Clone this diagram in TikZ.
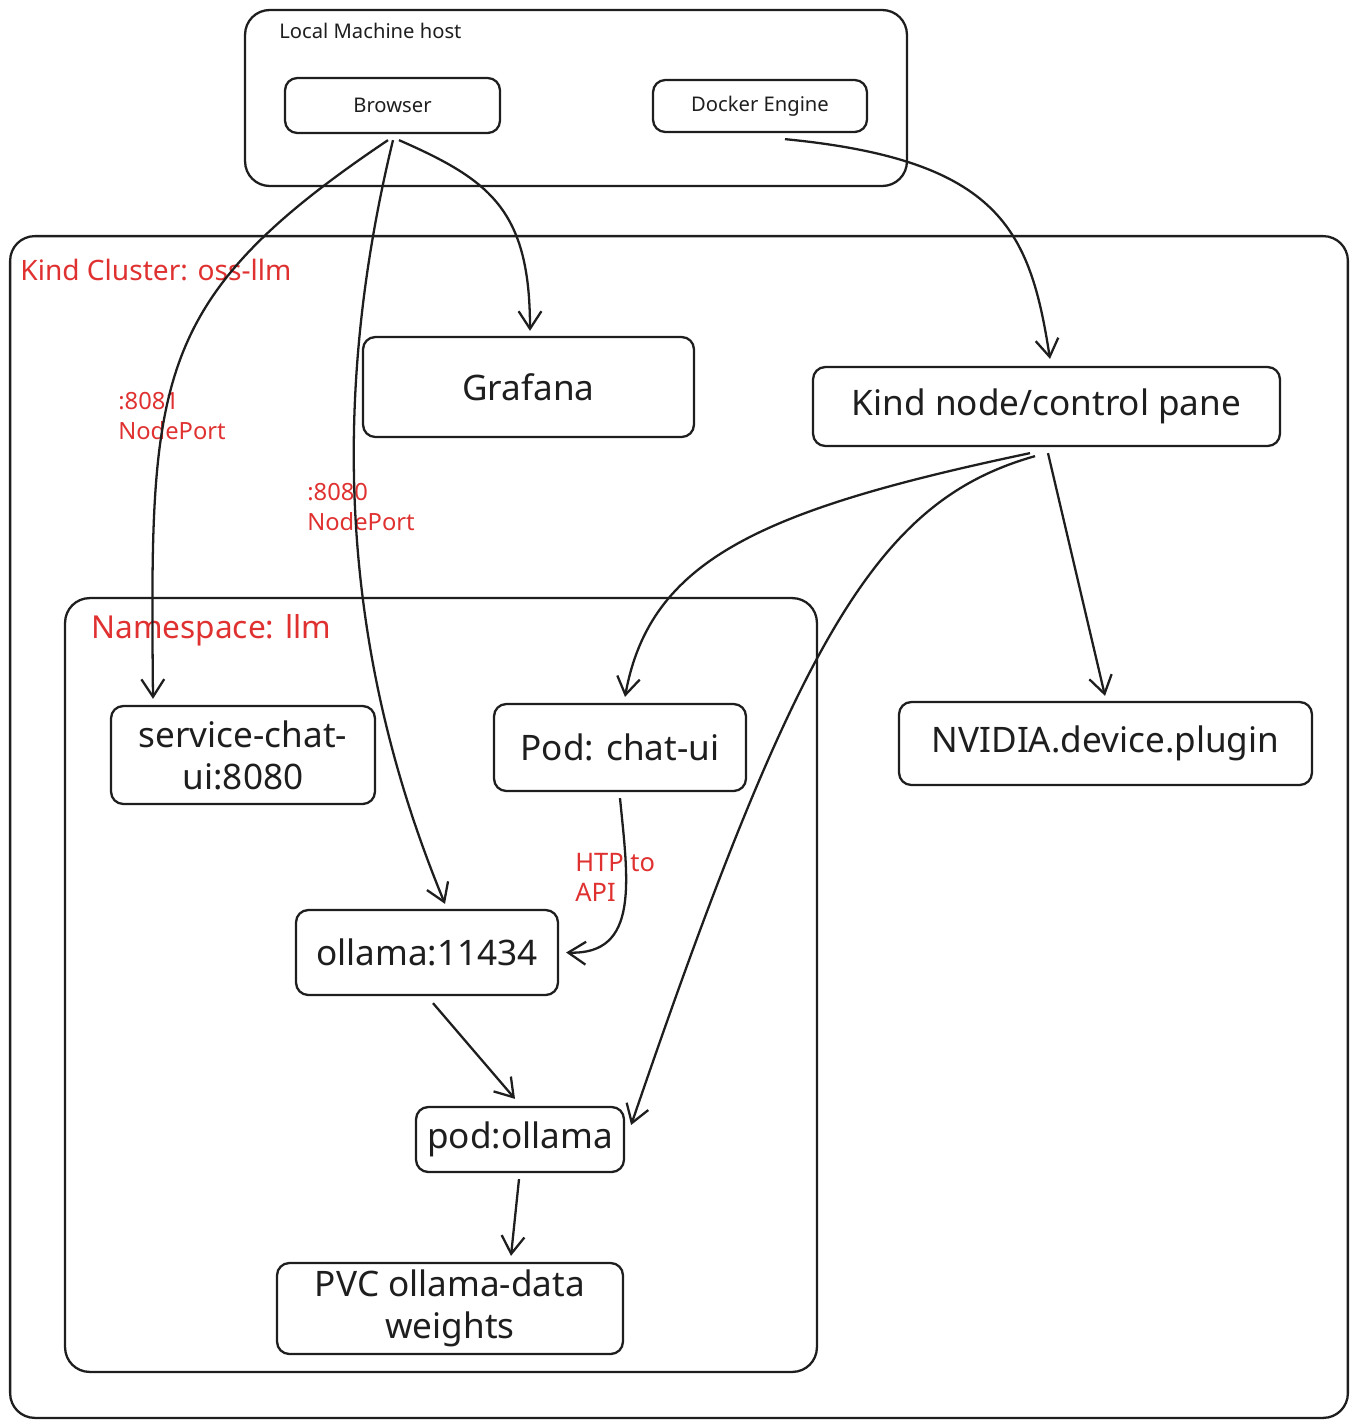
\documentclass[tikz,border=0pt]{standalone}
\usepackage{fontspec}
\setmainfont{Noto Sans}
\usepackage{tikz}
\usetikzlibrary{arrows.meta, positioning}
\definecolor{LabelRed}{RGB}{224,49,49}
\definecolor{InkBlack}{RGB}{30,30,30}

\begin{document}
\begin{tikzpicture}[
    x=0.02cm, y=-0.02cm,
    box/.style = {draw=InkBlack, line width=1.3pt, rectangle, rounded corners=7pt, inner sep=0pt, text centered, text=InkBlack, font=\fontsize{20}{24}\selectfont, align=center},
    hostbox/.style = {box, font=\fontsize{11.5}{13}\selectfont},
    frame/.style = {draw=InkBlack, line width=1.3pt, rectangle, rounded corners=14pt, inner sep=0pt},
    tag/.style = {text=LabelRed, inner sep=0pt, align=left, anchor=west},
    link/.style = {draw=InkBlack, line width=1.3pt, -{Straight Barb[length=10pt,width=13pt,line width=1.3pt]}}
]
\useasboundingbox (0,0) rectangle (1358,1428);
% Local machine
\node[frame, minimum width=13.24cm, minimum height=3.52cm] (host) at (576,98) {};
\node[tag, text=InkBlack, font=\fontsize{11.5}{13}\selectfont] (hostlabel) at (279,31) {Local Machine host};
\node[hostbox, minimum width=4.3cm, minimum height=1.1cm] (browser) at (392.5,105.5) {Browser};
\node[hostbox, minimum width=4.28cm, minimum height=1.04cm] (docker) at (760,106) {Docker Engine};
% Kind cluster
\node[frame, minimum width=26.76cm, minimum height=23.64cm] (cluster) at (679,827) {};
\node[tag, font=\fontsize{16}{18}\selectfont] (clusterlabel) at (20,270) {Kind Cluster: oss-llm};
\node[box, minimum width=6.62cm, minimum height=2cm] (grafana) at (528.5,387) {Grafana};
\node[box, minimum width=9.34cm, minimum height=1.58cm] (kindnode) at (1046.5,406.5) {Kind node/control pane};
\node[box, minimum width=8.26cm, minimum height=1.66cm] (nvidia) at (1105.5,743.5) {NVIDIA.device.plugin};
% Namespace llm
\node[frame, minimum width=15.04cm, minimum height=15.48cm] (namespace) at (441,985) {};
\node[tag, font=\fontsize{18}{20}\selectfont] (nslabel) at (91,630) {Namespace: llm};
\node[box, minimum width=5.28cm, minimum height=1.96cm] (svc) at (243,755) {service-chat-\\ui:8080};
\node[box, minimum width=5.04cm, minimum height=1.74cm] (chatui) at (620,747.5) {Pod: chat-ui};
\node[box, minimum width=5.24cm, minimum height=1.7cm] (ollama) at (427,952.5) {ollama:11434};
\node[box, minimum width=4.16cm, minimum height=1.3cm] (podollama) at (520,1139.5) {pod:ollama};
\node[box, minimum width=6.92cm, minimum height=1.82cm] (pvc) at (450,1308.5) {PVC ollama-data\\weights};
% Port labels
\node[tag, font=\fontsize{13.5}{17.5}\selectfont] (port81) at (118,416) {:8081\\NodePort};
\node[tag, font=\fontsize{13.5}{17.5}\selectfont] (port80) at (307,507) {:8080\\NodePort};
\node[tag, font=\fontsize{14.5}{17}\selectfont] (httplabel) at (575,877) {HTP to\\API};

% Connectors
\draw[link] ([shift={(-4.5,6)}]browser.south) .. controls (150,300) and (150,380) .. ([shift={(-90,-6)}]svc.north);
\draw[link] ([shift={(0.5,6)}]browser.south) .. controls (330,400) and (340,650) .. ([shift={(18,-5)}]ollama.north);
\draw[link] ([shift={(6.5,6)}]browser.south) .. controls (490,180) and (530,210) .. ([shift={(1.5,-5)}]grafana.north);
\draw[link] ([shift={(25,6)}]docker.south) .. controls (1000,160) and (1030,230) .. ([shift={(3.5,-7)}]kindnode.north);
\draw[link] ([shift={(-16.5,6)}]kindnode.south) .. controls (760,510) and (650,560) .. ([shift={(5,-6)}]chatui.north);
\draw[link] ([shift={(-11.5,9)}]kindnode.south) .. controls (880,500) and (800,630) .. ([shift={(6,-14.5)}]podollama.east);
\draw[link] ([shift={(1.5,6)}]kindnode.south) -- ([shift={(-0.5,-5)}]nvidia.north);
\draw[link] ([shift={(0,6)}]chatui.south) .. controls (628,880) and (640,955) .. ([shift={(7,0)}]ollama.east);
\draw[link] ([shift={(6,7)}]ollama.south) -- ([shift={(-5,-7)}]podollama.north);
\draw[link] ([shift={(-1,6)}]podollama.south) -- ([shift={(61,-6)}]pvc.north);
\end{tikzpicture}
\end{document}
